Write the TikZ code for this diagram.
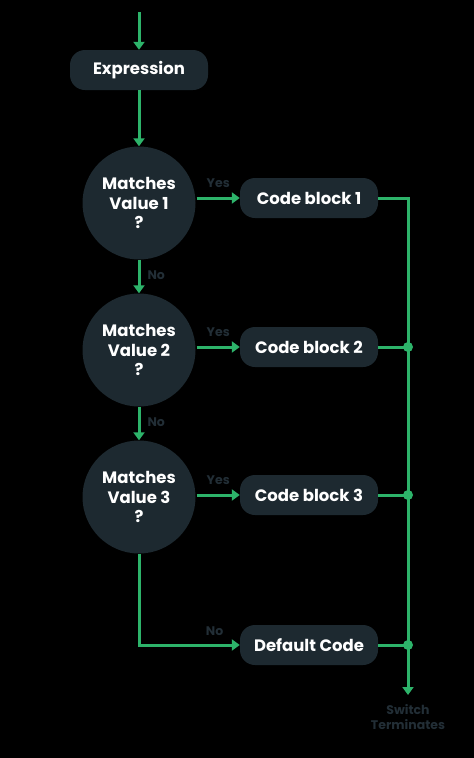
\documentclass[tikz,border=0pt]{standalone}
\usepackage{fontspec}
\setmainfont{Poppins}
\usetikzlibrary{arrows.meta}
\definecolor{gfgreen}{HTML}{2DB36A}
\definecolor{nodefill}{HTML}{1D2930}
\definecolor{lblcol}{HTML}{222E36}
\tikzset{
  pill/.style={draw=none, fill=nodefill, rounded corners=15pt, minimum width=138pt, minimum height=40pt, text=white, font=\bfseries\fontsize{16.5}{18}\selectfont, inner sep=0pt},
  decision/.style={circle, fill=nodefill, minimum size=113pt, inner sep=0pt, text=white, align=center, font=\bfseries\fontsize{16.5}{19.5}\selectfont},
  flow/.style={draw=gfgreen, line width=3pt},
  arr/.style={flow, -{Triangle[width=11pt,length=8pt]}},
  lbl/.style={text=lblcol, font=\bfseries\fontsize{12.5}{14}\selectfont, inner sep=0pt},
  junction/.style={circle, fill=gfgreen, minimum size=10pt, inner sep=0pt}
}
\begin{document}
\begin{tikzpicture}[x=1pt,y=-1pt]
\fill[black] (0,0) rectangle (474,758);
\useasboundingbox (0,0) rectangle (474,758);
\coordinate (start) at (139,12);
\node[pill] (expr) at (139,70) {Expression};
\node[decision] (d1) at (139,203) {Matches\\Value 1\\?};
\node[decision] (d2) at (139,350) {Matches\\Value 2\\?};
\node[decision] (d3) at (139,497) {Matches\\Value 3\\?};
\node[pill] (c1) at (309,198) {Code block 1};
\node[pill] (c2) at (309,347) {Code block 2};
\node[pill] (c3) at (309,495) {Code block 3};
\node[pill] (cd) at (309,645) {Default Code};
\coordinate (top) at (408,198);
\node[junction] (j2) at (408,347) {};
\node[junction] (j3) at (408,495) {};
\node[junction] (jd) at (408,645) {};
\coordinate (endp) at (408,695);
\coordinate (corner) at (139,645);
\node[lbl, align=center, font=\bfseries\fontsize{12.5}{15}\selectfont] (sw) at (408,717) {Switch\\Terminates};

\draw[arr] (start) -- (expr.north);
\draw[arr] (expr.south) -- (d1.north);
\draw[arr] (d1.south) -- node[lbl, right=7pt, pos=0.45] (n1) {No} (d2.north);
\draw[arr] (d2.south) -- node[lbl, right=7pt, pos=0.45] (n2) {No} (d3.north);
\draw[arr] (d1.east |- c1.west) ++(1,0) -- node[lbl, above=9pt] (y1) {Yes} (c1.west);
\draw[arr] (d2.east |- c2.west) ++(1,0) -- node[lbl, above=9pt] (y2) {Yes} (c2.west);
\draw[arr] (d3.east |- c3.west) ++(1,0) -- node[lbl, above=9pt] (y3) {Yes} (c3.west);
\draw[arr] (d3.south) -- (corner) -- node[lbl, above=8pt, pos=0.75] (n3) {No} (cd.west);
\draw[flow] (c1.east) -- (top) -- (jd.center);
\draw[flow] (c2.east) -- (j2.center);
\draw[flow] (c3.east) -- (j3.center);
\draw[flow] (cd.east) -- (jd.center);
\draw[arr] (jd.center) -- (endp);
\end{tikzpicture}
\end{document}
